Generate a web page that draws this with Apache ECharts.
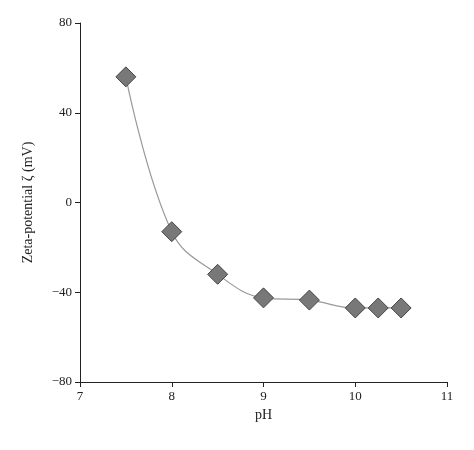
<!DOCTYPE html>
<html><head><meta charset="utf-8">
<script src="https://cdn.jsdelivr.net/npm/echarts@6/dist/echarts.min.js"></script>
<style>html,body{margin:0;padding:0;background:#fff}#c{width:474px;height:450px}</style>
</head><body><div id="c"></div>
<script>
const phValues = [7.5, 8, 8.5, 9, 9.5, 10, 10.25, 10.5];
const zetaValues = [56, -13, -32, -42.5, -43.5, -47, -47, -47];
const xTicks = [7, 8, 9, 10, 11];
const yTicks = [-80, -40, 0, 40, 80];
const font = 'Liberation Serif';
const chart = echarts.init(document.getElementById('c'));
chart.setOption({
  animation: false,
  grid: {left: 80, right: 27, top: 23, bottom: 68},
  xAxis: {type: 'value', min: 7, max: 11, interval: 1, name: 'pH', nameLocation: 'middle', nameGap: 22,
    nameTextStyle: {fontFamily: font, fontSize: 14, color: '#222'},
    axisLine: {onZero: false, lineStyle: {color: '#222'}}, axisTick: {show: true, length: 5, lineStyle: {color: '#222'}},
    axisLabel: {fontFamily: font, fontSize: 13, color: '#222', margin: 8}, splitLine: {show: false}},
  yAxis: {type: 'value', min: -80, max: 80, interval: 40, name: 'Zeta-potential ζ (mV)', nameLocation: 'middle', nameGap: 45,
    nameTextStyle: {fontFamily: font, fontSize: 14, color: '#222'},
    axisLine: {show: true, onZero: false, lineStyle: {color: '#222'}}, axisTick: {show: true, length: 5, lineStyle: {color: '#222'}},
    axisLabel: {fontFamily: font, fontSize: 13, color: '#222', margin: 8, formatter: v => String(v).replace('-', '−')}, splitLine: {show: false}},
  series: [{type: 'line', data: phValues.map((x, i) => [x, zetaValues[i]]), smooth: 0.4,
    lineStyle: {color: '#999', width: 1.2}, symbol: 'diamond', symbolSize: 20,
    itemStyle: {color: '#787878', borderColor: '#444', borderWidth: 1}}]
});
</script></body></html>
